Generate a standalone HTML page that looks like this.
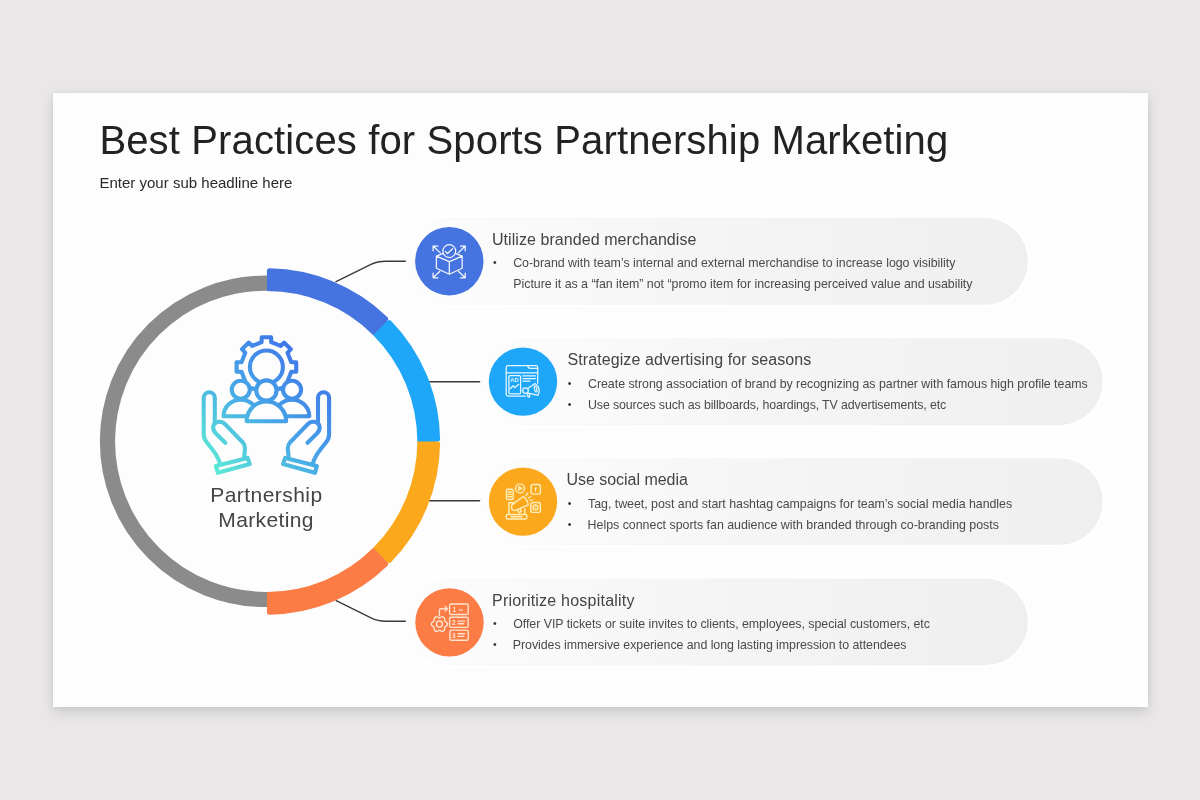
<!DOCTYPE html>
<html lang="en">
<head>
<meta charset="utf-8">
<title>Best Practices for Sports Partnership Marketing</title>
<style>
html,body{margin:0;padding:0;}
body{width:1200px;height:800px;overflow:hidden;background:#e9e7e8;position:relative;font-family:"Liberation Sans",sans-serif;}
.card{position:absolute;left:53px;top:93px;width:1095px;height:614px;background:#fdfdfd;box-shadow:0 5px 12px rgba(0,0,0,.13),0 0 6px rgba(0,0,0,.05);}
svg.art{position:absolute;left:0;top:0;width:1200px;height:800px;will-change:transform;}
.t{position:absolute;white-space:nowrap;line-height:1;margin:0;padding:0;font-weight:400;}
h1,h3,p,ul,li{margin:0;padding:0;font-weight:400;}
ul{list-style:none;}
#txt{position:absolute;left:0;top:0;width:1200px;height:800px;will-change:transform;}
.title{font-size:40px;color:#222;}
.sub{font-size:15px;color:#2a2a2a;}
.ctr{color:#444;font-size:21px;}
.h{font-size:16px;color:#444;}
.b{font-size:12.4px;color:#4a4a4a;}
.dot{position:absolute;left:-20.4px;top:0.4px;font-size:10.5px;letter-spacing:0;color:#333;line-height:1;}
</style>
</head>
<body>
<div class="card"></div>
<svg class="art" viewBox="0 0 1200 800">
<defs>
<linearGradient id="pg" x1="0" y1="0" x2="1" y2="0">
<stop offset="0" stop-color="#fdfdfd"/><stop offset="0.45" stop-color="#f5f5f5"/><stop offset="1" stop-color="#efefef"/>
</linearGradient>
<linearGradient id="ig" gradientUnits="userSpaceOnUse" x1="328" y1="345" x2="206" y2="472">
<stop offset="0" stop-color="#3c66e8"/><stop offset="0.5" stop-color="#46a2e8"/><stop offset="1" stop-color="#5ef0d4"/>
</linearGradient>
</defs>
<!-- pills -->
<g id="pillglow" fill="none" stroke="#ffffff" stroke-width="5">
<rect x="406.5" y="218" width="621.3" height="86.6" rx="43.3"/>
<rect x="480.7" y="338.4" width="621.8" height="86.5" rx="43.25"/>
<rect x="480.7" y="458.4" width="621.8" height="86.4" rx="43.2"/>
<rect x="406.5" y="578.7" width="621.3" height="86.5" rx="43.25"/>
</g>
<g id="pills" fill="url(#pg)" stroke="rgba(0,0,0,0.012)" stroke-width="1.5">
<rect x="406.5" y="218" width="621.3" height="86.6" rx="43.3"/>
<rect x="480.7" y="338.4" width="621.8" height="86.5" rx="43.25"/>
<rect x="480.7" y="458.4" width="621.8" height="86.4" rx="43.2"/>
<rect x="406.5" y="578.7" width="621.3" height="86.5" rx="43.25"/>
</g>
<!-- connectors -->
<g id="conn" fill="none" stroke="#3a3a3a" stroke-width="1.4" stroke-linecap="round">
<path d="M336,281.6 L371,264.3 Q377.5,261.2 386,261.2 L405.4,261.2"/>
<path d="M429.5,381.7 L479.6,381.7"/>
<path d="M429.5,500.8 L479.6,500.8"/>
<path d="M336.2,600.6 L371,617.9 Q377.5,621.2 386,621.2 L405.4,621.2"/>
</g>
<!-- ring -->
<g id="ring">
<path d="M267.6,283.1 L265.6,283.1 A158.2,158.2 0 0 0 265.6,599.5 L267.6,599.5" fill="none" stroke="#8b8b8b" stroke-width="15.2"/>
<path d="M373.67,334.73 L387.11,321.29" stroke="#4573e0" stroke-width="1.2" fill="none"/>
<path d="M417.90,441.50 L436.90,441.50" stroke="#1ea7f8" stroke-width="1.2" fill="none"/>
<path d="M373.67,548.27 L387.11,561.71" stroke="#fba81c" stroke-width="1.2" fill="none"/>
<path d="M266.90,291.10 A150.4,150.4 0 0 1 373.25,335.15 L387.53,320.87 Q389.37,319.03 387.52,317.20 A173.2,173.2 0 0 0 269.50,268.32 Q266.90,268.30 266.90,270.90 Z" fill="#4573e0"/>
<path d="M373.25,335.15 A150.4,150.4 0 0 1 417.30,441.50 L437.50,441.50 Q440.10,441.50 440.08,438.90 A173.2,173.2 0 0 0 391.20,320.88 Q389.37,319.03 387.53,320.87 Z" fill="#1ea7f8"/>
<path d="M417.30,441.50 A150.4,150.4 0 0 1 373.25,547.85 L387.53,562.13 Q389.37,563.97 391.20,562.12 A173.2,173.2 0 0 0 440.08,444.10 Q440.10,441.50 437.50,441.50 Z" fill="#fba81c"/>
<path d="M373.25,547.85 A150.4,150.4 0 0 1 266.90,591.90 L266.90,612.10 Q266.90,614.70 269.50,614.68 A173.2,173.2 0 0 0 387.52,565.80 Q389.37,563.97 387.53,562.13 Z" fill="#fb7c44"/>
</g>
<!-- icon circles -->
<circle cx="449.3" cy="261.2" r="34.2" fill="#4573e0"/>
<circle cx="523" cy="381.6" r="34.2" fill="#1ea7f8"/>
<circle cx="523" cy="501.6" r="34.2" fill="#fba81c"/>
<circle cx="449.5" cy="622.4" r="34.2" fill="#fb7c44"/>
<!-- center icon -->
<g id="cicon" fill="none" stroke="url(#ig)" stroke-width="4.1" stroke-linejoin="round" stroke-linecap="round">
<path d="M261.6,342.1 L261.7,337.2 L271.1,337.2 L271.2,342.1 L280.6,345.9 L284.2,342.6 L290.8,349.2 L287.5,352.8 L291.3,362.2 L296.2,362.3 L296.2,371.7 L291.3,371.8 L287.5,381.2 L290.8,384.8 L284.2,391.4 L280.6,388.1 L271.2,391.9 L271.1,396.8 L261.7,396.8 L261.6,391.9 L252.2,388.1 L248.6,391.4 L242.0,384.8 L245.3,381.2 L241.5,371.8 L236.6,371.7 L236.6,362.3 L241.5,362.2 L245.3,352.8 L242.0,349.2 L248.6,342.6 L252.2,345.9 Z"/>
<circle cx="266.4" cy="367" r="16.5"/>
<g fill="#fdfdfd">
<path d="M223.5,416.2 A17.25,16.4 0 0 1 258,416.2 Z"/>
<path d="M274.8,416.2 A17.25,16.4 0 0 1 309.3,416.2 Z"/>
<circle cx="240.75" cy="389.7" r="9"/>
<circle cx="292.05" cy="389.7" r="9"/>
<path d="M246.65,421.2 A19.75,19.75 0 0 1 286.15,421.2 Z"/>
<circle cx="266.4" cy="390.5" r="10.15"/>
</g>
<g id="lhand">
<path d="M219.8,462.6 L218.3,459 Q216.5,454.5 212,449 L206.5,442 Q203.7,438.5 203.7,434 L203.7,397.8 A5.55,5.55 0 0 1 214.8,397.8 L214.8,423.3"/>
<path d="M225.3,442.8 L215.8,433.4 Q212.6,430 213.2,426.5 Q214,422.3 218.5,421.8 Q222.5,421.4 225.5,424.6 L242.6,442.2 Q245,444.8 245,448.5 L244.2,456.8"/>
<path d="M215.9,466 L247.6,457.9 L249.8,464.1 L217.9,472.8 Z"/>
</g>
<g id="rhand">
<path d="M313,462.6 L314.5,459 Q316.3,454.5 320.8,449 L326.3,442 Q329.1,438.5 329.1,434 L329.1,397.8 A5.55,5.55 0 0 0 318,397.8 L318,423.3"/>
<path d="M307.5,442.8 L317,433.4 Q320.2,430 319.6,426.5 Q318.8,422.3 314.3,421.8 Q310.3,421.4 307.3,424.6 L290.2,442.2 Q287.8,444.8 287.8,448.5 L288.6,456.8"/>
<path d="M316.9,466 L285.2,457.9 L283,464.1 L314.9,472.8 Z"/>
</g>
</g>
<!--ICONS-->
<!-- icon 1: box, check, arrows -->
<g id="ic1" fill="none" stroke="#f4f7fe" stroke-width="1.25" stroke-linecap="round" stroke-linejoin="round">
<circle cx="449.3" cy="251.1" r="6.4"/>
<path d="M445.4,251.4 L447.5,253.5 L452.6,248.7"/>
<path d="M436.4,256.2 L449.3,261.6 L462.2,256.2 M449.3,261.6 L449.3,274.2 M436.4,256.2 L436.4,268.2 L449.3,274.2 L462.2,268.2 L462.2,256.2 M436.4,256.2 L442.6,253.6 M462.2,256.2 L456,253.6"/>
<path d="M440.3,252.9 L433.1,246 M437.9,246 L433.1,246 L433.1,250.8"/>
<path d="M458.3,252.9 L465.2,246 M460.4,246 L465.2,246 L465.2,250.8"/>
<path d="M439.7,271.5 L433.1,277.8 M437.9,277.8 L433.1,277.8 L433.1,273"/>
<path d="M458.6,271.5 L465.2,277.8 M460.4,277.8 L465.2,277.8 L465.2,273"/>
</g>
<!-- icon 2: browser ad + megaphone -->
<g id="ic2" fill="none" stroke="#e9f6fe" stroke-width="1.25" stroke-linecap="round" stroke-linejoin="round">
<path d="M537.7,383.2 L537.7,367.5 Q537.7,365.7 535.9,365.7 L508,365.7 Q506.2,365.7 506.2,367.5 L506.2,394.2 Q506.2,396 508,396 L525.6,396"/>
<path d="M506.2,372.9 L537.7,372.9"/>
<path d="M527.8,365.7 Q528,368.4 530.6,368.4 L537.7,368.4"/>
<rect x="508.9" y="375.6" width="11.7" height="18.3" rx="1.2"/>
<path d="M510.1,388.8 L513.1,385.8 L514.9,387.6 L518.8,384.3"/>
<path d="M522.9,375.9 L535.4,375.9 M522.9,378.6 L535.4,378.6 M522.9,381.1 L530,381.1"/>
<circle cx="525.5" cy="390.6" r="2.8"/>
<path d="M527.7,388.4 L535,383.6 Q541.4,388.2 538,395.3 L528.4,393.1"/>
<ellipse cx="535.6" cy="388.9" rx="1.1" ry="3.2" transform="rotate(-14 535.6 388.9)"/>
<path d="M527,393.4 L528.2,397.1 L529.9,396.6 L529.1,393.6"/>
</g>
<text x="510.3" y="382.3" font-family="'Liberation Sans',sans-serif" font-size="5.4" font-weight="700" fill="#e9f6fe" textLength="8.6" lengthAdjust="spacingAndGlyphs">AD</text>
<!-- icon 3: social media -->
<g id="ic3" fill="none" stroke="#fdf0be" stroke-width="1.4" stroke-linecap="round" stroke-linejoin="round">
<rect x="506.5" y="489.3" width="6.6" height="10.2" rx="1"/>
<path d="M508.2,492 L511.4,492 M508.2,494.4 L511.4,494.4 M508.2,496.8 L511.4,496.8"/>
<circle cx="520" cy="488.4" r="4.5"/>
<path d="M518.8,486.6 L518.8,490.2 L521.8,488.4 Z"/>
<rect x="531.1" y="484.5" width="9.3" height="9.6" rx="2"/>
<rect x="530.8" y="502.5" width="9.6" height="9.9" rx="2"/>
<circle cx="535.5" cy="507.4" r="2.4"/>
<path d="M513.4,502.8 L508.9,502.8 L508.9,514.3 M524.8,508.8 L524.8,514.3"/>
<rect x="506.2" y="514.5" width="20.7" height="4.5" rx="1.4"/>
<path d="M511,516.7 L521.8,516.7"/>
<path d="M511.9,504.9 L523.3,496.5 Q527.4,499.5 528.3,504.9 L515.2,510.6 Q510.2,510.3 511.9,504.9 Z"/>
<path d="M517.6,509.6 L518.8,512.6 L521.2,511.8 L520.3,508.4"/>
<path d="M526,495.6 L527.8,493.2 M528.4,498 L530.8,496.5 M529.9,500.1 L532.6,500.1"/>
</g>
<text x="534.5" y="492.1" font-family="'Liberation Sans',sans-serif" font-size="6.6" font-weight="700" fill="#fdf3c8">f</text>
<circle cx="535.5" cy="507.4" r="0.6" fill="#fdf3c8"/>
<!-- icon 4: gear + list -->
<g id="ic4" transform="translate(0.3,0.4)" fill="none" stroke="#fde4d0" stroke-width="1.4" stroke-linecap="round" stroke-linejoin="round">
<path id="gear4" d="M443.10,616.77 L443.65,617.20 L444.07,617.78 L444.19,618.61 L444.21,619.41 L444.40,619.99 L444.64,620.50 L444.96,620.97 L445.37,621.42 L446.05,621.84 L446.71,622.36 L447.00,623.01 L447.10,623.70 L447.00,624.39 L446.71,625.04 L446.05,625.56 L445.37,625.98 L444.96,626.43 L444.64,626.90 L444.40,627.41 L444.21,627.99 L444.19,628.79 L444.07,629.62 L443.65,630.20 L443.10,630.63 L442.45,630.89 L441.74,630.96 L440.96,630.65 L440.26,630.27 L439.66,630.14 L439.10,630.10 L438.54,630.14 L437.94,630.27 L437.24,630.65 L436.46,630.96 L435.75,630.89 L435.10,630.63 L434.55,630.20 L434.13,629.62 L434.01,628.79 L433.99,627.99 L433.80,627.41 L433.56,626.90 L433.24,626.43 L432.83,625.98 L432.15,625.56 L431.49,625.04 L431.20,624.39 L431.10,623.70 L431.20,623.01 L431.49,622.36 L432.15,621.84 L432.83,621.42 L433.24,620.97 L433.56,620.50 L433.80,619.99 L433.99,619.41 L434.01,618.61 L434.13,617.78 L434.55,617.20 L435.10,616.77 L435.75,616.51 L436.46,616.44 L437.24,616.75 L437.94,617.13 L438.54,617.26 L439.10,617.30 L439.66,617.26 L440.26,617.13 L440.96,616.75 L441.74,616.44 L442.45,616.51 Z"/>
<circle cx="439.1" cy="623.7" r="3.1"/>
<path d="M439.1,615.3 L439.1,610 Q439.1,608.4 440.7,608.4 L446.9,608.4 M444.8,606.2 L447.2,608.4 L444.8,610.6"/>
<rect x="449.3" y="603.6" width="18.6" height="10.5" rx="1.6"/>
<rect x="449.3" y="616.8" width="18.6" height="10.2" rx="1.6"/>
<rect x="449.6" y="629.7" width="18.3" height="10.2" rx="1.6"/>
<path d="M459.5,609.3 L459.5,610 M461.6,609.3 L461.6,610"/>
<path d="M457.7,620.7 L464.6,620.7 M457.7,623.4 L463.4,623.4"/>
<path d="M457.7,633.3 L464.6,633.3 M457.7,636 L463.4,636"/>
</g>
<g transform="translate(0.3,0.4)" font-family="'Liberation Sans',sans-serif" font-size="6.6" font-weight="700" fill="#fde4d0">
<text x="452.2" y="611.3">1</text>
<text x="451.6" y="624.3">2</text>
<text x="451.6" y="637.2">3</text>
</g>
<!--/ICONS-->
</svg>
<!-- text -->
<main id="txt">
<h1 class="t title" style="left:99.4px;top:120.0px;letter-spacing:0.137px;">Best Practices for Sports Partnership Marketing</h1>
<p class="t sub" style="left:99.4px;top:175.0px;letter-spacing:0.012px;">Enter your sub headline here</p>
<div class="t ctr" style="left:210.3px;top:484.2px;letter-spacing:0.439px;">Partnership</div>
<div class="t ctr" style="left:218.3px;top:509.4px;letter-spacing:0.360px;">Marketing</div>
<section class="item item1">
<h3 class="t h" style="left:492.0px;top:232.1px;letter-spacing:0.062px;">Utilize branded merchandise</h3>
<ul>
<li class="t b" style="left:513.2px;top:257.1px;letter-spacing:-0.022px;"><span class="dot" style="left:-20.1px">•</span>Co-brand with team’s internal and external merchandise to increase logo visibility</li>
<li class="t b" style="left:513.3px;top:278.1px;letter-spacing:-0.026px;">Picture it as a “fan item” not “promo item for increasing perceived value and usability</li>
</ul>
</section>
<section class="item item2">
<h3 class="t h" style="left:567.5px;top:352.0px;letter-spacing:0.083px;">Strategize advertising for seasons</h3>
<ul>
<li class="t b" style="left:588.0px;top:377.8px;letter-spacing:-0.034px;"><span class="dot" style="left:-20.3px">•</span>Create strong association of brand by recognizing as partner with famous high profile teams</li>
<li class="t b" style="left:588.0px;top:398.6px;letter-spacing:-0.124px;"><span class="dot" style="left:-20.3px">•</span>Use sources such as billboards, hoardings, TV advertisements, etc</li>
</ul>
</section>
<section class="item item3">
<h3 class="t h" style="left:566.5px;top:472.0px;letter-spacing:-0.029px;">Use social media</h3>
<ul>
<li class="t b" style="left:588.0px;top:497.5px;letter-spacing:-0.026px;"><span class="dot" style="left:-20.3px">•</span>Tag, tweet, post and start hashtag campaigns for team’s social media handles</li>
<li class="t b" style="left:587.6px;top:518.6px;letter-spacing:-0.008px;"><span class="dot" style="left:-19.9px">•</span>Helps connect sports fan audience with branded through co-branding posts</li>
</ul>
</section>
<section class="item item4">
<h3 class="t h" style="left:492.0px;top:592.5px;letter-spacing:0.222px;">Prioritize hospitality</h3>
<ul>
<li class="t b" style="left:513.2px;top:617.8px;letter-spacing:-0.045px;"><span class="dot" style="left:-20.1px">•</span>Offer VIP tickets or suite invites to clients, employees, special customers, etc</li>
<li class="t b" style="left:512.8px;top:638.6px;letter-spacing:-0.054px;"><span class="dot" style="left:-19.7px">•</span>Provides immersive experience and long lasting impression to attendees</li>
</ul>
</section>
</main>
</body>
</html>
